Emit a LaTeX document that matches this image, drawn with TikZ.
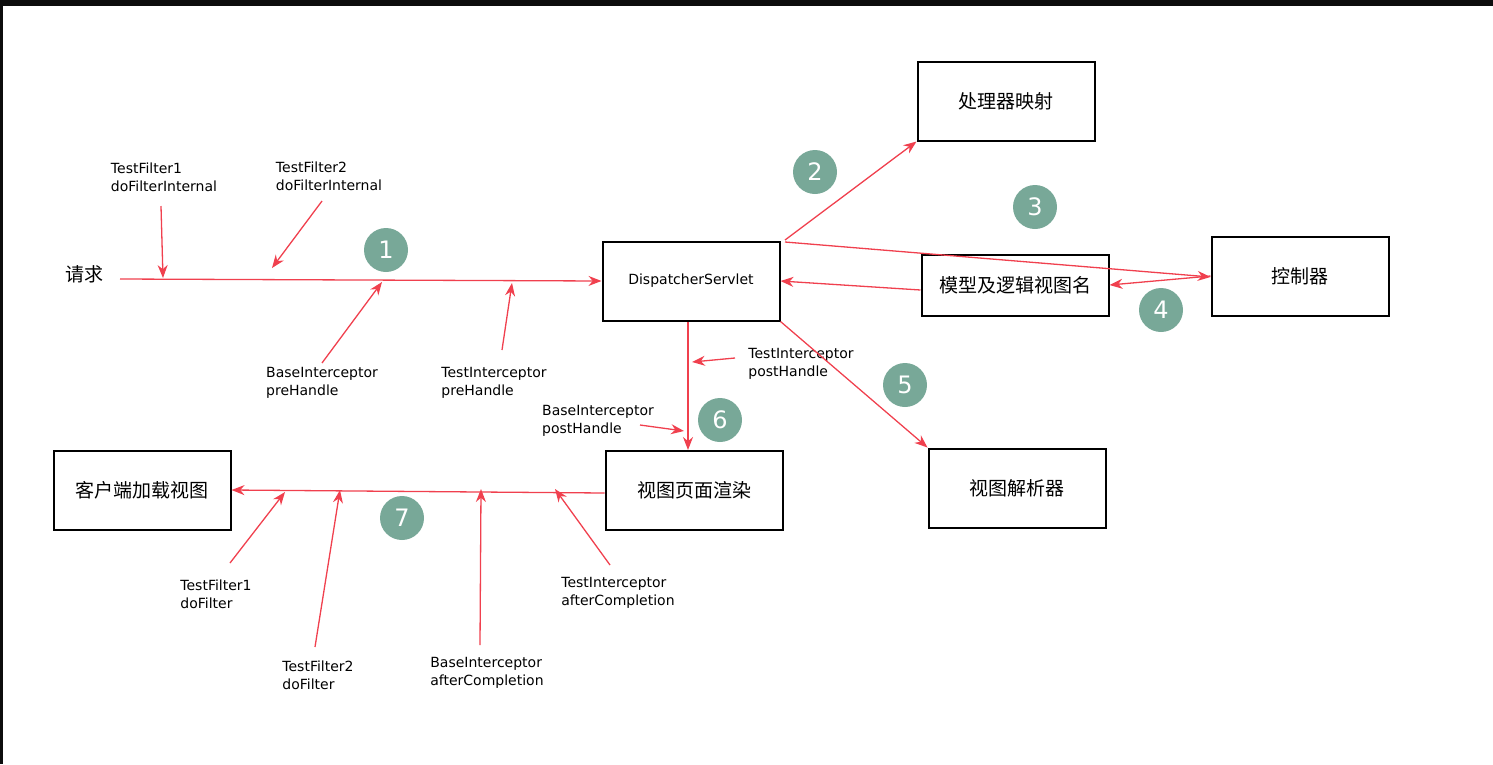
\documentclass[tikz,border=0pt]{standalone}
\usepackage{fontspec}
\setmainfont{DejaVu Sans}
\newfontfamily\cjk{Noto Sans CJK SC}
\usetikzlibrary{arrows.meta}
\definecolor{rl}{HTML}{F0404E}
\definecolor{gc}{HTML}{78A898}
\begin{document}
\begin{tikzpicture}[x=1pt,y=-1pt,
  box/.style={draw=black,line width=2pt,minimum width=177pt,minimum height=79pt,font=\cjk\fontsize{19}{22}\selectfont,inner sep=0pt},
  arr/.style={draw=rl,line width=1.3pt,-{Stealth[length=13pt,width=10pt]}},
  num/.style={circle,fill=gc,minimum size=44pt,inner sep=0pt,text=white,font=\rmfamily\fontsize{24}{24}\selectfont},
  lab/.style={align=left,font=\fontsize{14}{18}\selectfont,inner sep=0pt},
  cn/.style={font=\cjk\fontsize{19}{22}\selectfont,inner sep=0pt}]
\useasboundingbox (0,0) rectangle (1493,764);
\fill[black!95] (0,0) rectangle (1493,6);
\fill[black!95] (0,0) rectangle (3,764);
% boxes
\node[box] (map) at (1006,101) {处理器映射};
\node[box] (ctl) at (1300,276) {控制器};
\node[box,minimum width=187pt,minimum height=61pt] (mv) at (1015,285) {模型及逻辑视图名};
\node[box,font=\fontsize{14}{16}\selectfont] (ds) at (691,281) {DispatcherServlet};
\node[box] (vr) at (1017,488) {视图解析器};
\node[box] (rd) at (694,490) {视图页面渲染};
\node[box] (cl) at (142,490) {客户端加载视图};
\node[cn] (req) at (84,274) {请求};
\coordinate (r0) at (120,279);
\draw[arr] (r0) -- (ds.west);
% circles
\node[num] (c1) at (386,250) {1};
\node[num] (c2) at (815,172) {2};
\node[num] (c3) at (1035,207) {3};
\node[num] (c4) at (1161,310) {4};
\node[num] (c5) at (905,385) {5};
\node[num] (c6) at (720,420) {6};
\node[num] (c7) at (402,518) {7};
% labels
\node[lab] (tf1) at (164,177) {TestFilter1\\doFilterInternal};
\node[lab] (tf2) at (329,176) {TestFilter2\\doFilterInternal};
\node[lab] (bip) at (322,383) {BaseInterceptor\\preHandle};
\node[lab] (tip) at (494,383) {TestInterceptor\\preHandle};
\node[lab] (tipo) at (801,364) {TestInterceptor\\postHandle};
\node[lab] (bipo) at (598,421) {BaseInterceptor\\postHandle};
\node[lab] (tf1d) at (216,594) {TestFilter1\\doFilter};
\node[lab] (tf2d) at (318,675) {TestFilter2\\doFilter};
\node[lab] (bia) at (487,673) {BaseInterceptor\\afterCompletion};
\node[lab] (tia) at (618,593) {TestInterceptor\\afterCompletion};
% coordinates
\coordinate (a1s) at (161,206); \coordinate (a1e) at (163,278);
\coordinate (a2s) at (322,201); \coordinate (a2e) at (272,268);
\coordinate (a3s) at (322,363); \coordinate (a3e) at (382,282);
\coordinate (a4s) at (502,350); \coordinate (a4e) at (512,283);
\draw[arr] (a1s) -- (a1e);
\draw[arr] (a2s) -- (a2e);
\draw[arr] (a3s) -- (a3e);
\draw[arr] (a4s) -- (a4e);
\coordinate (d1) at (785,240); \coordinate (d2) at (785,242);
\draw[arr] (d1) -- (map.south west);
\draw[arr] (d2) -- ([yshift=-1pt]ctl.west);
\draw[arr] (ctl.west) -- (mv.east);
\draw[arr] ([yshift=-5pt]mv.west) -- (ds.east);
\draw[arr] (ds.south east) -- (vr.north west);
\coordinate (d3) at (688,322); \coordinate (d4) at (688,450);
\draw[arr] (d3) -- (d4);
\coordinate (p1s) at (735,358); \coordinate (p1e) at (692,362);
\coordinate (p2s) at (640,425); \coordinate (p2e) at (684,431);
\draw[arr] (p1s) -- (p1e);
\draw[arr] (p2s) -- (p2e);
\draw[arr] ([yshift=-3pt]rd.west) -- (cl.east);
\coordinate (b1s) at (230,563); \coordinate (b1e) at (285,492);
\coordinate (b2s) at (315,647); \coordinate (b2e) at (340,490);
\coordinate (b3s) at (480,645); \coordinate (b3e) at (481,489);
\coordinate (b4s) at (610,565); \coordinate (b4e) at (555,489);
\draw[arr] (b1s) -- (b1e);
\draw[arr] (b2s) -- (b2e);
\draw[arr] (b3s) -- (b3e);
\draw[arr] (b4s) -- (b4e);
\end{tikzpicture}
\end{document}
